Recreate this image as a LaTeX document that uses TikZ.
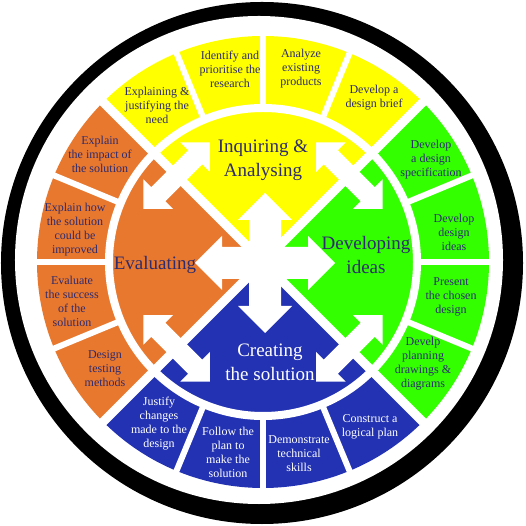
\documentclass[tikz,border=0pt]{standalone}
\usepackage{fontspec}
\setmainfont{Liberation Serif}
\definecolor{cyel}{HTML}{FFFF00}
\definecolor{cgrn}{HTML}{33FF00}
\definecolor{corg}{HTML}{E8782E}
\definecolor{cblu}{HTML}{2232B2}
\definecolor{navy}{HTML}{2E2B6E}
\tikzset{
  seg/.style={align=center, text=navy, inner sep=0pt, font=\fontsize{12}{14}\selectfont},
  segw/.style={seg, text=white},
  quad/.style={align=center, text=navy, inner sep=0pt, font=\fontsize{19}{24}\selectfont},
  quadw/.style={quad, text=white},
  gapline/.style={draw=white, line width=6pt},
  diaggap/.style={draw=white, line width=9pt},
  arrowfill/.style={fill=white}
}
\begin{document}
\begin{tikzpicture}[x=1pt,y=1pt]
\useasboundingbox (-263,-264) rectangle (263,262);
% outer black ring
\fill[black] (-1,-1) circle (261);
\fill[white] (-4,2) circle (244);
% quadrant sectors
\fill[cyel] (0,0) -- (45:226) arc[start angle=45, end angle=135, radius=226] -- cycle;
\fill[corg] (0,0) -- (135:226) arc[start angle=135, end angle=225, radius=226] -- cycle;
\fill[cblu] (0,0) -- (225:226) arc[start angle=225, end angle=315, radius=226] -- cycle;
\fill[cgrn] (0,0) -- (-45:226) arc[start angle=-45, end angle=45, radius=226] -- cycle;
% gaps
\draw[white, line width=8pt] (0,0) circle (154);
\foreach \a in {0,22.5,67.5,90,112.5,157.5,180,202.5,247.5,270,292.5,337.5}
  \draw[gapline] (\a:154) -- (\a:232);
\draw[diaggap] (45:232) -- (225:232);
\draw[diaggap] (135:232) -- (315:232);
% central cross arrow
\fill[arrowfill] (2,-1) ++(16,16) -- ++(0,27) -- ++(11,0) -- ++(-27,27) -- ++(-27,-27) -- ++(11,0) -- ++(0,-27)
  -- ++(-27,0) -- ++(0,11) -- ++(-27,-27) -- ++(27,-27) -- ++(0,11) -- ++(27,0)
  -- ++(0,-27) -- ++(-11,0) -- ++(27,-27) -- ++(27,27) -- ++(-11,0) -- ++(0,27)
  -- ++(27,0) -- ++(0,-11) -- ++(27,27) -- ++(-27,27) -- ++(0,-11) -- cycle;
% diagonal double arrows
\foreach \t in {45,135,225,315}{
  \begin{scope}[shift={(\t:122)}, rotate=\t+90]
    \fill[arrowfill] (47,0) -- (26,21) -- (26,10) -- (-26,10) -- (-26,21) -- (-47,0)
      -- (-26,-21) -- (-26,-10) -- (26,-10) -- (26,-21) -- cycle;
  \end{scope}
}
% segment texts
\node[seg] (s1) at (-106,157) {Explaining \&\\justifying the\\need};
\node[seg] (s2) at (-33,193) {Identify and\\prioritise the\\research};
\node[seg] (s3) at (38,193) {Analyze\\existing\\products};
\node[seg] (s4) at (111,164) {Develop a\\design brief};
\node[seg] (s5) at (168,102) {Develop\\a design\\specification};
\node[seg] (s6) at (191,30) {Develop\\design\\ideas};
\node[seg] (s7) at (188,-35) {Present\\the chosen\\design};
\node[seg] (s8) at (160,-102) {Develp\\planning\\drawings \&\\diagrams};
\node[segw] (s9) at (107,-165) {Construct a\\logical plan};
\node[segw] (s10) at (36,-192) {Demonstrate\\technical\\skills};
\node[segw] (s11) at (-35,-190) {Follow the\\plan to\\make the\\solution};
\node[segw] (s12) at (-104,-162) {Justify\\changes\\made to the\\design};
\node[seg] (s13) at (-158,-107) {Design\\testing\\methods};
\node[seg] (s14) at (-191,-39) {Evaluate\\the success\\of the\\solution};
\node[seg] (s15) at (-188,32) {Explain how\\the solution\\could be\\improved};
\node[seg] (s16) at (-163,108) {Explain\\the impact of\\the solution};
% quadrant labels
\node[quad] (q1) at (0,102) {Inquiring \&\\Analysing};
\node[quad] (q2) at (103,7) {Developing\\ideas};
\node[quadw] (q3) at (7,-100) {Creating\\the solution};
\node[quad] (q4) at (-108,-3) {Evaluating};
\end{tikzpicture}
\end{document}
